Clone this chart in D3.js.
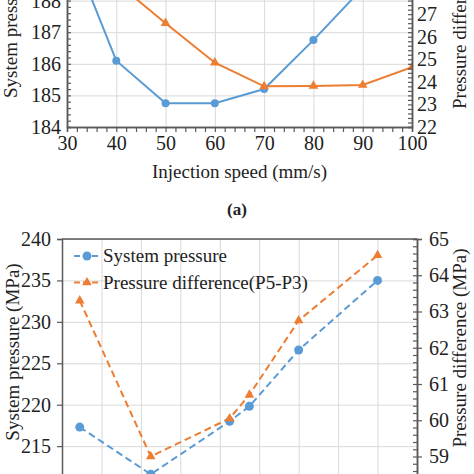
<!DOCTYPE html>
<html>
<head>
<meta charset="utf-8">
<script src="https://cdn.jsdelivr.net/npm/d3@7"></script>
<style>
  html, body { margin: 0; padding: 0; background: #fff; }
  svg { display: block; font-family: "Liberation Serif", "Times New Roman", serif; }
</style>
</head>
<body>
<div id="chart"></div>
<script>
// Panel (a): injection speed vs. pressures
const speedsA = [30, 40, 50, 60, 70, 80, 90, 100];
const systemPressureA = [190.0, 186.1, 184.75, 184.75, 185.2, 186.75, 188.4, 190.2];
const pressureDiffA = [30.2, 28.4, 26.6, 24.85, 23.8, 23.82, 23.86, 24.65];
const xTicksA = [30, 40, 50, 60, 70, 80, 90, 100];
const leftTicksA = [184, 185, 186, 187, 188];
const rightTicksA = [22, 23, 24, 25, 26, 27];

// Panel (b): x positions in grid units (axis labels are outside the crop)
const positionsB = [0.45, 2.25, 4.25, 4.75, 6, 8];
const systemPressureB = [217.3, 211.6, 218.0, 219.8, 226.6, 235.0];
const pressureDiffB = [63.3, 59.0, 60.05, 60.7, 62.75, 64.55];
const leftTicksB = [205, 210, 215, 220, 225, 230, 235, 240];
const rightTicksB = [57, 58, 59, 60, 61, 62, 63, 64, 65];
const legendLabels = ["System pressure", "Pressure difference(P5-P3)"];

const W = 474, H = 474;
const BLUE = "#5b9bd5", ORANGE = "#ed7d31", GRID = "#d9d9d9", AXIS = "#595959";
const fmt = d3.format("d");

const svg = d3.select("#chart").append("svg").attr("width", W).attr("height", H);

function styleAxis(g, size) {
  g.select(".domain").attr("stroke", AXIS).attr("stroke-width", 1.5);
  g.selectAll(".tick line").attr("stroke", AXIS).attr("stroke-width", 1.2);
  g.selectAll("text").attr("fill", "#222").style("font-size", size + "px")
    .style("font-family", "Liberation Serif, serif");
}

function minorTicks(scale, step) {
  const [a, b] = scale.domain();
  const out = [];
  for (let v = a; v <= b + 1e-9; v += step) out.push(+v.toFixed(4));
  return out;
}

function triangle(g, x, y, color) {
  g.append("path")
    .attr("d", d3.symbol().type(d3.symbolTriangle).size(40)())
    .attr("transform", `translate(${x},${y})`)
    .attr("fill", color);
}

// ---------- Panel (a) ----------
{
  const left = 67, right = 412, top = -31, bottom = 127;
  const x = d3.scaleLinear().domain([30, 100]).range([left, right]);
  const yL = d3.scaleLinear().domain([184, 189]).range([bottom, top]);
  const yR = d3.scaleLinear().domain([22, 29]).range([bottom, top]);

  svg.append("clipPath").attr("id", "clipA").append("rect")
    .attr("x", left).attr("y", top).attr("width", right - left).attr("height", bottom - top);

  const g = svg.append("g");
  g.append("g").attr("transform", `translate(0,${bottom})`)
    .call(d3.axisBottom(x).tickValues(xTicksA).tickSize(-(bottom - top)).tickFormat(""))
    .call((a) => a.select(".domain").remove())
    .call((a) => a.selectAll("line").attr("stroke", GRID));
  g.append("g").attr("transform", `translate(${left},0)`)
    .call(d3.axisLeft(yL).tickValues(leftTicksA).tickSize(-(right - left)).tickFormat(""))
    .call((a) => a.select(".domain").remove())
    .call((a) => a.selectAll("line").attr("stroke", GRID));

  const plot = g.append("g").attr("clip-path", "url(#clipA)");
  plot.append("path").datum(speedsA)
    .attr("d", d3.line().x((d) => x(d)).y((d, i) => yL(systemPressureA[i])))
    .attr("fill", "none").attr("stroke", BLUE).attr("stroke-width", 2);
  plot.append("path").datum(speedsA)
    .attr("d", d3.line().x((d) => x(d)).y((d, i) => yR(pressureDiffA[i])))
    .attr("fill", "none").attr("stroke", ORANGE).attr("stroke-width", 2);
  speedsA.forEach((s, i) => {
    plot.append("circle").attr("cx", x(s)).attr("cy", yL(systemPressureA[i])).attr("r", 4).attr("fill", BLUE);
    triangle(plot, x(s), yR(pressureDiffA[i]), ORANGE);
  });

  // minor ticks
  g.append("g").attr("transform", `translate(0,${bottom})`)
    .call(d3.axisBottom(x).tickValues(minorTicks(x, 2)).tickSize(5).tickFormat(""))
    .call((a) => styleAxis(a, 17));
  g.append("g").attr("transform", `translate(0,${bottom})`)
    .call(d3.axisBottom(x).tickValues(xTicksA).tickSize(0).tickPadding(9).tickFormat(fmt))
    .call((a) => styleAxis(a, 20));
  g.append("g").attr("transform", `translate(${left},0)`)
    .call(d3.axisLeft(yL).tickValues(minorTicks(yL, 0.2)).tickSize(-4).tickFormat(""))
    .call((a) => styleAxis(a, 17));
  g.append("g").attr("transform", `translate(${left},0)`)
    .call(d3.axisLeft(yL).tickValues(leftTicksA).tickSize(0).tickPadding(6).tickFormat(fmt))
    .call((a) => styleAxis(a, 20));
  g.append("g").attr("transform", `translate(${right},0)`)
    .call(d3.axisRight(yR).tickValues(minorTicks(yR, 0.2)).tickSize(-4).tickFormat(""))
    .call((a) => styleAxis(a, 17));
  g.append("g").attr("transform", `translate(${right},0)`)
    .call(d3.axisRight(yR).tickValues(rightTicksA).tickSize(0).tickPadding(5).tickFormat(fmt))
    .call((a) => styleAxis(a, 20));

  g.append("text").attr("x", (left + right) / 2).attr("y", 178).attr("text-anchor", "middle")
    .attr("font-size", 19).attr("fill", "#222").text("Injection speed (mm/s)");
  g.append("text").attr("transform", "translate(17,98) rotate(-90)").attr("font-size", 19)
    .attr("fill", "#222").text("System pressure (MPa)");
  g.append("text").attr("transform", "translate(466,109) rotate(-90)").attr("font-size", 19)
    .attr("fill", "#222").text("Pressure difference (MPa)");
  g.append("text").attr("x", 237).attr("y", 215).attr("text-anchor", "middle")
    .attr("font-size", 17).attr("font-weight", "bold").attr("fill", "#222").text("(a)");
}

// ---------- Panel (b) ----------
{
  const left = 62, right = 417, top = 239, bottom = 529;
  const x = d3.scaleLinear().domain([0, 9]).range([left, right]);
  const yL = d3.scaleLinear().domain([205, 240]).range([bottom, top]);
  const yR = d3.scaleLinear().domain([57, 65]).range([bottom, top]);
  const g = svg.append("g");

  g.append("g").attr("transform", `translate(0,${bottom})`)
    .call(d3.axisBottom(x).ticks(9).tickSize(-(bottom - top)).tickFormat(""))
    .call((a) => a.select(".domain").remove())
    .call((a) => a.selectAll("line").attr("stroke", GRID));
  g.append("g").attr("transform", `translate(${left},0)`)
    .call(d3.axisLeft(yL).tickValues(leftTicksB).tickSize(-(right - left)).tickFormat(""))
    .call((a) => a.select(".domain").remove())
    .call((a) => a.selectAll("line").attr("stroke", GRID));
  g.append("line").attr("x1", left).attr("x2", right).attr("y1", top).attr("y2", top)
    .attr("stroke", AXIS).attr("stroke-width", 1.5);

  g.append("path").datum(positionsB)
    .attr("d", d3.line().x((d) => x(d)).y((d, i) => yL(systemPressureB[i])))
    .attr("fill", "none").attr("stroke", BLUE).attr("stroke-width", 2).attr("stroke-dasharray", "7,4");
  g.append("path").datum(positionsB)
    .attr("d", d3.line().x((d) => x(d)).y((d, i) => yR(pressureDiffB[i])))
    .attr("fill", "none").attr("stroke", ORANGE).attr("stroke-width", 2).attr("stroke-dasharray", "7,4");
  positionsB.forEach((p, i) => {
    g.append("circle").attr("cx", x(p)).attr("cy", yL(systemPressureB[i])).attr("r", 4.5).attr("fill", BLUE);
    triangle(g, x(p), yR(pressureDiffB[i]), ORANGE);
  });

  g.append("g").attr("transform", `translate(${left},0)`)
    .call(d3.axisLeft(yL).tickValues(leftTicksB).tickSize(5).tickPadding(6).tickFormat(fmt))
    .call((a) => styleAxis(a, 20));
  g.append("g").attr("transform", `translate(${right},0)`)
    .call(d3.axisRight(yR).tickValues(minorTicks(yR, 0.2)).tickSize(-4).tickFormat(""))
    .call((a) => styleAxis(a, 17));
  g.append("g").attr("transform", `translate(${right},0)`)
    .call(d3.axisRight(yR).tickValues(rightTicksB).tickSize(5).tickPadding(7).tickFormat(fmt))
    .call((a) => styleAxis(a, 20));

  g.append("text").attr("transform", "translate(19,352) rotate(-90)").attr("text-anchor", "middle")
    .attr("font-size", 19).attr("fill", "#222").text("System pressure (MPa)");
  g.append("text").attr("transform", "translate(466,348) rotate(-90)").attr("text-anchor", "middle")
    .attr("font-size", 19).attr("fill", "#222").text("Pressure difference (MPa)");

  // legend
  const colors = [BLUE, ORANGE];
  legendLabels.forEach((label, i) => {
    const ly = 256 + i * 26.5;
    g.append("line").attr("x1", 74).attr("x2", 100).attr("y1", ly).attr("y2", ly)
      .attr("stroke", colors[i]).attr("stroke-width", 2).attr("stroke-dasharray", "6,3");
    if (i === 0) g.append("circle").attr("cx", 87).attr("cy", ly).attr("r", 4.5).attr("fill", BLUE);
    else triangle(g, 87, ly, ORANGE);
    g.append("text").attr("x", 103).attr("y", ly + 6).attr("font-size", 19).attr("fill", "#222").text(label);
  });
}
</script>
</body>
</html>
